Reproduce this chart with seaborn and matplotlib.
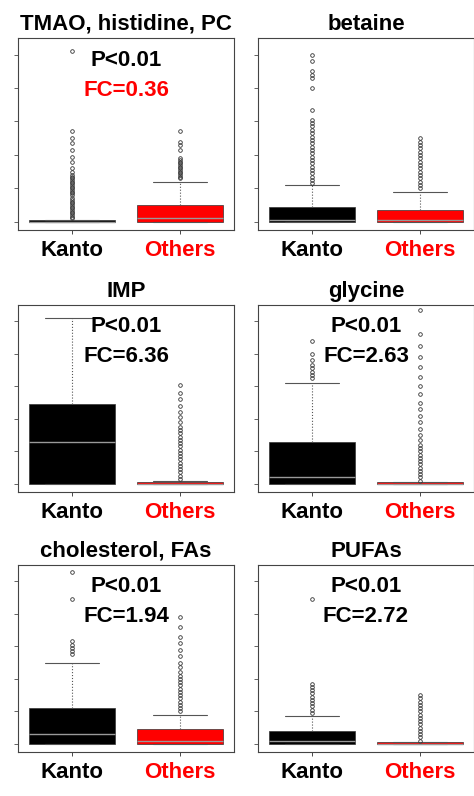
import matplotlib
matplotlib.use("Agg")
import matplotlib.pyplot as plt
import seaborn as sns

sns.set_style("ticks")
plt.rcParams['font.family'] = ['Liberation Sans', 'DejaVu Sans']
plt.rcParams['text.color'] = 'black'
plt.rcParams['xtick.color'] = 'black'
plt.rcParams['axes.titlecolor'] = 'black'

titles = ["TMAO, histidine, PC", "betaine", "IMP", "glycine", "cholesterol, FAs", "PUFAs"]
p_text = ["P<0.01", "", "P<0.01", "P<0.01", "P<0.01", "P<0.01"]
fc_text = ["FC=0.36", "", "FC=6.36", "FC=2.63", "FC=1.94", "FC=2.72"]
fc_color = ["red", "black", "black", "black", "black", "black"]
groups = ["Kanto", "Others"]

# box stats per panel: [Kanto, Others] as (whislo, q1, med, q3, whishi)
stats_kanto = [(0, 0, 0, 1, 1), (0, 0, 1, 9, 22), (0, 0, 26, 49, 102),
               (0, 0, 4, 26, 62), (0, 0, 6, 22, 50), (0, 0, 2, 8, 17)]
stats_others = [(0, 0, 2, 10, 24), (0, 0, 1, 7, 18), (0, 0, 0, 1, 2),
                (0, 0, 0, 1, 1), (0, 0, 2, 9, 18), (0, 0, 0, 1, 1)]
fliers_kanto = [
    [2, 3, 4, 5, 6, 7, 8, 9, 10, 11, 12, 13, 14, 16, 17, 18, 19, 20, 21, 22, 23, 24, 25, 26, 27, 28, 30, 32, 36, 39, 43, 47, 50, 54, 102],
    [23, 25, 27, 29, 31, 33, 35, 37, 39, 41, 43, 45, 47, 49, 51, 53, 55, 57, 59, 61, 67, 80, 86, 88, 90, 96, 100],
    [],
    [65, 67, 69, 71, 73, 76, 80, 88],
    [55, 57, 59, 61, 63, 89, 106],
    [19, 21, 23, 25, 27, 29, 31, 33, 35, 37, 89],
]
fliers_others = [
    [26, 27, 28, 29, 30, 31, 32, 33, 34, 35, 36, 37, 38, 43, 46, 48, 54],
    [20, 22, 24, 26, 28, 30, 32, 34, 36, 38, 40, 42, 44, 46, 48, 50],
    [3, 5, 7, 9, 11, 13, 15, 17, 19, 21, 23, 25, 27, 29, 31, 33, 35, 38, 41, 44, 48, 52, 56, 61],
    [2, 4, 6, 8, 10, 12, 14, 16, 18, 20, 22, 24, 27, 30, 34, 38, 42, 46, 50, 55, 60, 66, 72, 78, 85, 92, 107],
    [20, 22, 24, 26, 28, 30, 32, 34, 36, 38, 40, 42, 44, 47, 50, 54, 58, 62, 66, 72, 78],
    [2, 4, 6, 8, 10, 12, 14, 16, 18, 20, 22, 24, 26, 28, 30],
]

W, H = 474, 796
lefts = [18, 258]
tops = [38, 305, 565]
heights = [192, 187, 187]
aw = 216

fig = plt.figure(figsize=(W / 100, H / 100), dpi=100)

for i in range(6):
    r, c = divmod(i, 2)
    ax = fig.add_axes([lefts[c] / W, 1 - (tops[r] + heights[r]) / H, aw / W, heights[r] / H])
    bstats = []
    for s, fl, lab in [(stats_kanto[i], fliers_kanto[i], "Kanto"), (stats_others[i], fliers_others[i], "Others")]:
        bstats.append(dict(whislo=s[0], q1=s[1], med=s[2], q3=s[3], whishi=s[4], fliers=fl, label=lab))
    bp = ax.bxp(bstats, positions=[1, 2], widths=0.8, patch_artist=True,
                boxprops=dict(linewidth=0.5),
                whiskerprops=dict(linestyle=':', linewidth=0.8, color='#555555'),
                capprops=dict(linewidth=0.8, color='#555555'),
                medianprops=dict(color='#999999', linewidth=1),
                flierprops=dict(marker='o', markersize=2.6, markerfacecolor='none',
                                markeredgecolor='#333333', markeredgewidth=0.6))
    for patch, col in zip(bp['boxes'], ['black', 'red']):
        patch.set_facecolor(col)
        patch.set_edgecolor('#333333')
    for cap in bp['caps']:
        x = cap.get_xdata()
        m = (x[0] + x[1]) / 2
        cap.set_xdata([m - 0.25, m + 0.25])
    ax.set_xlim(0.5, 2.5)
    ax.set_ylim(-5, 110)
    ax.set_yticklabels([])
    ax.tick_params(axis='y', length=3, width=0.5)
    ax.set_xticks([1, 2])
    ax.set_xticklabels(groups, fontsize=16, fontweight='bold')
    ax.get_xticklabels()[1].set_color('red')
    ax.tick_params(axis='x', length=3, width=0.5, pad=4)
    for sp in ax.spines.values():
        sp.set_linewidth(0.8)
        sp.set_color('#444444')
    ax.set_title(titles[i], fontsize=16, fontweight='bold', pad=6)
    if p_text[i]:
        ax.text(0.5, 0.94, p_text[i], transform=ax.transAxes, ha='center', va='top',
                fontsize=16, fontweight='bold')
        ax.text(0.5, 0.78, fc_text[i], transform=ax.transAxes, ha='center', va='top',
                fontsize=16, fontweight='bold', color=fc_color[i])

fig.savefig("out.png", dpi=100)
